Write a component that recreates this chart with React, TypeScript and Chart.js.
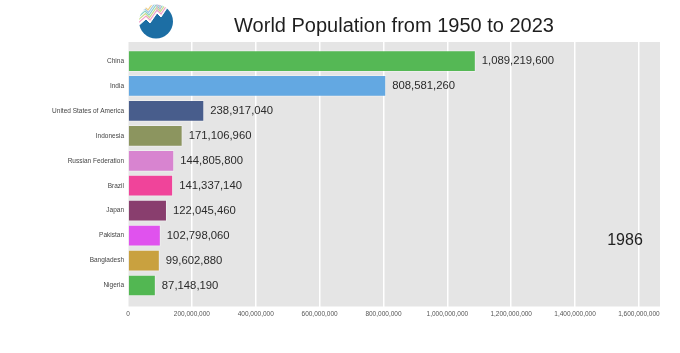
import React, { useEffect, useRef } from "react";
import { Chart, registerables } from "chart.js";

Chart.register(...registerables);

const categories = [
  "China",
  "India",
  "United States of America",
  "Indonesia",
  "Russian Federation",
  "Brazil",
  "Japan",
  "Pakistan",
  "Bangladesh",
  "Nigeria",
];
const populations = [
  1089219600, 808581260, 238917040, 171106960, 144805800, 141337140, 122045460,
  102798060, 99602880, 87148190,
];
const barColors = [
  "#55b855",
  "#63a8e2",
  "#485d8c",
  "#8c955f",
  "#d884d0",
  "#f0449a",
  "#893e6e",
  "#e052ee",
  "#c9a13f",
  "#52b752",
];
const xTickValues = [0, 2e8, 4e8, 6e8, 8e8, 1e9, 1.2e9, 1.4e9, 1.6e9];
const titleText = "World Population from 1950 to 2023";
const yearLabel = "1986";

const FONT = '"Liberation Sans", Arial, Helvetica, sans-serif';
const fmt = (n: number) => Math.round(n).toLocaleString("en-US");

function drawLogo(ctx: CanvasRenderingContext2D) {
  const cx = 156,
    cy = 21.5,
    r = 17;
  ctx.save();
  ctx.beginPath();
  ctx.arc(cx, cy, r, 0, Math.PI * 2);
  ctx.clip();
  ctx.fillStyle = "#ffffff";
  ctx.fillRect(cx - r, cy - r, 2 * r, 2 * r);
  const path = [
    [137, 27],
    [146, 19],
    [150, 23],
    [157, 13],
    [161, 17],
    [167, 8],
    [176, 8],
  ];
  const lineColors = ["#f2a0c8", "#c8dc8c", "#8cd2c8", "#a0c8e6", "#f0d28c"];
  lineColors.forEach((c, k) => {
    ctx.beginPath();
    path.forEach(([x, y], i) => {
      const yy = y - 3 - k * 2.5;
      const xx = x - k * 0.5;
      if (i === 0) ctx.moveTo(xx, yy);
      else ctx.lineTo(xx, yy);
    });
    ctx.strokeStyle = c;
    ctx.lineWidth = 1.2;
    ctx.stroke();
  });
  ctx.strokeStyle = "#e6b4d2";
  ctx.lineWidth = 1;
  ctx.beginPath();
  ctx.moveTo(157, 4);
  ctx.lineTo(157, 12);
  ctx.moveTo(160, 3);
  ctx.lineTo(160, 10);
  ctx.stroke();
  ctx.beginPath();
  ctx.moveTo(path[0][0], path[0][1]);
  path.forEach(([x, y]) => ctx.lineTo(x, y));
  ctx.lineTo(180, 45);
  ctx.lineTo(130, 45);
  ctx.closePath();
  ctx.fillStyle = "#1c6ea4";
  ctx.fill();
  ctx.strokeStyle = "#ffffff";
  ctx.lineWidth = 1;
  ctx.stroke();
  ctx.restore();
}

const decorPlugin = {
  id: "decor",
  beforeDraw(chart: any) {
    const { ctx, chartArea, width, height } = chart;
    ctx.save();
    ctx.fillStyle = "#ffffff";
    ctx.fillRect(0, 0, width, height);
    ctx.fillStyle = "#e5e5e5";
    ctx.fillRect(
      chartArea.left,
      chartArea.top,
      chartArea.right - chartArea.left,
      chartArea.bottom - chartArea.top
    );
    ctx.restore();
  },
  afterDatasetsDraw(chart: any) {
    const { ctx } = chart;
    const meta = chart.getDatasetMeta(0);
    ctx.save();
    ctx.font = `11.3px ${FONT}`;
    ctx.fillStyle = "#2b2b2b";
    ctx.textBaseline = "middle";
    ctx.textAlign = "left";
    meta.data.forEach((el: any, i: number) => {
      ctx.fillText(fmt(populations[i]), el.x + 6, el.y);
    });
    ctx.restore();
  },
  afterDraw(chart: any) {
    const { ctx, chartArea } = chart;
    ctx.save();
    ctx.fillStyle = "#1e1e1e";
    ctx.font = `20px ${FONT}`;
    ctx.textAlign = "center";
    ctx.textBaseline = "alphabetic";
    ctx.fillText(titleText, (chartArea.left + chartArea.right) / 2, 31.5);
    ctx.font = `16px ${FONT}`;
    ctx.textBaseline = "middle";
    ctx.fillStyle = "#222222";
    ctx.fillText(
      yearLabel,
      chartArea.right - 35,
      chartArea.top + (chartArea.bottom - chartArea.top) * 0.75
    );
    drawLogo(ctx);
    ctx.restore();
  },
};

export default function App() {
  const ref = useRef<HTMLCanvasElement | null>(null);
  useEffect(() => {
    document.body.style.margin = "0";
    document.body.style.overflow = "hidden";
    const canvas = ref.current;
    if (!canvas) return;
    const chart = new Chart(canvas, {
      type: "bar",
      data: {
        datasets: [
          {
            data: populations.map((v, i) => ({ x: v, y: i })),
            backgroundColor: barColors,
            borderColor: "rgba(255,255,255,0.35)",
            borderWidth: 1,
            barPercentage: 0.87,
            categoryPercentage: 1,
          },
        ],
      },
      options: {
        animation: false,
        responsive: false,
        maintainAspectRatio: false,
        indexAxis: "y",
        layout: { padding: { left: 0, right: 20, top: 42, bottom: 0 } },
        plugins: {
          legend: { display: false },
          tooltip: { enabled: false },
          title: { display: false },
        },
        scales: {
          x: {
            type: "linear",
            position: "bottom",
            min: 0,
            max: 1.666e9,
            offset: false,
            grid: { color: "#ffffff", lineWidth: 1.5, drawTicks: false, offset: false },
            border: { display: false },
            ticks: {
              includeBounds: false,
              padding: 4,
              color: "#555555",
              font: { family: FONT, size: 6.5 },
              maxRotation: 0,
              autoSkip: false,
              callback: (v: any) => fmt(Number(v)),
            },
            afterBuildTicks: (s: any) => {
              s.ticks = xTickValues.map((v) => ({ value: v }));
            },
            afterFit: (s: any) => {
              s.height = 46.5;
            },
          },
          y: {
            type: "linear",
            position: "left",
            reverse: true,
            min: -0.763,
            max: 9.843,
            offset: false,
            grace: 0,
            grid: { display: false, drawTicks: false, offset: false },
            border: { display: false },
            ticks: {
              padding: 4,
              color: "#444444",
              font: { family: FONT, size: 6.5 },
              autoSkip: false,
              callback: (v: any) => categories[Number(v)] ?? "",
            },
            afterBuildTicks: (s: any) => {
              s.ticks = categories.map((_, i) => ({ value: i }));
            },
            afterFit: (s: any) => {
              s.width = 128;
            },
          },
        },
      } as any,
      plugins: [decorPlugin],
    });
    return () => chart.destroy();
  }, []);
  return (
    <canvas
      ref={ref}
      width={680}
      height={353}
      style={{ display: "block", width: 680, height: 353 }}
    />
  );
}
